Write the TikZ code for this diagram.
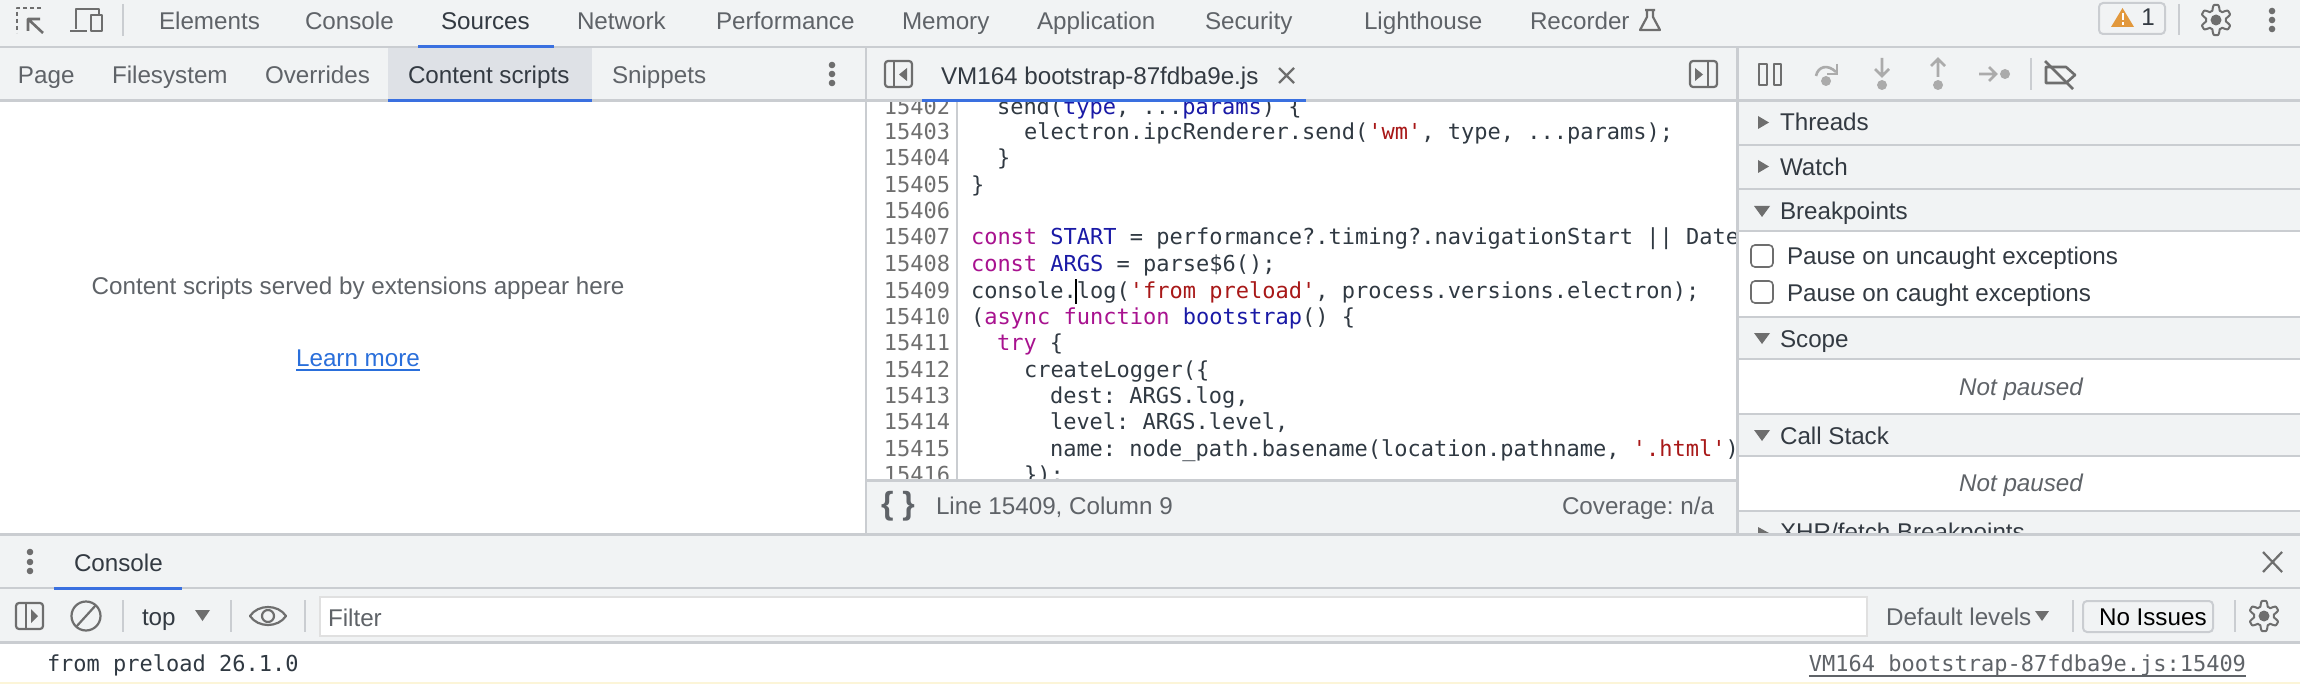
\documentclass[tikz,border=0pt]{standalone}
\usepackage{fontspec}
\setmainfont{Liberation Sans}
\newfontfamily\codefont{DejaVu Sans Mono}
\definecolor{barbg}{HTML}{F1F3F4}
\definecolor{bordc}{HTML}{CACDD1}
\definecolor{activebg}{HTML}{DEE1E6}
\definecolor{tabtxt}{HTML}{5F6368}
\definecolor{darktxt}{HTML}{333A42}
\definecolor{accent}{HTML}{3A70E0}
\definecolor{iconc}{HTML}{6E6E6E}
\definecolor{offc}{HTML}{ABABAB}
\definecolor{kwc}{HTML}{A8128F}
\definecolor{varc}{HTML}{1A1AA6}
\definecolor{strc}{HTML}{A81818}
\definecolor{codec}{HTML}{303942}
\definecolor{numc}{HTML}{6F6F6F}
\definecolor{yellowc}{HTML}{FCF5D8}
\definecolor{warnc}{HTML}{E2983C}
\definecolor{linkc}{HTML}{2A6FDB}
\definecolor{boxc}{HTML}{E0E0E0}
\newcommand\kw[1]{\textcolor{kwc}{#1}}
\newcommand\vr[1]{\textcolor{varc}{#1}}
\newcommand\st[1]{\textcolor{strc}{#1}}
\newcommand\gearicon[2]{\begin{scope}[shift={(#1,#2)}]
 \draw[iconc,line width=1pt,line join=round] plot[domain=0:360,samples=145] ({(12.5+2.6*max(-1,min(1,1.6*cos(6*\x+180))))*cos(\x)},{(12.5+2.6*max(-1,min(1,1.6*cos(6*\x+180))))*sin(\x)}) -- cycle;
 \fill[iconc] (0,0) circle[radius=5.5];
\end{scope}}
\tikzset{
 x=.5pt,y=-.5pt,
 uibase/.style={inner sep=0pt,outer sep=0pt,yshift=-1.7pt,font=\fontsize{12.1}{14}\selectfont},
 uitab/.style={uibase,anchor=mid west,text=tabtxt},
 uion/.style={uibase,anchor=mid west,text=darktxt},
 uihead/.style={uibase,anchor=mid west,text=darktxt},
 uinote/.style={uibase,anchor=mid,text=tabtxt},
 codeline/.style={inner sep=0pt,outer sep=0pt,yshift=-.4pt,anchor=mid west,text=codec,font=\fontsize{11}{13}\codefont},
 numline/.style={inner sep=0pt,outer sep=0pt,yshift=-.4pt,anchor=mid east,text=numc,font=\fontsize{11}{13}\codefont},
 rulerow/.style={bordc,line width=1.25pt},
 sepline/.style={draw=bordc,line width=1pt},
 iconline/.style={iconc,line width=1.1pt,line join=round},
 offline/.style={offc,line width=1.1pt},
}
\begin{document}
\frenchspacing
\begin{tikzpicture}
\useasboundingbox (0,0) rectangle (2300,684);
\fill[white] (0,0) rectangle (2300,684);
% backgrounds
\fill[barbg] (0,0) rectangle (2300,101);
\fill[activebg] (388,48) rectangle (592,100);
\fill[barbg] (1738,102) rectangle (2300,231);
\fill[barbg] (1738,317) rectangle (2300,359);
\fill[barbg] (1738,414) rectangle (2300,456);
\fill[barbg] (1738,511) rectangle (2300,535);
\fill[barbg] (867,480) rectangle (1737,535);
\fill[barbg] (0,535) rectangle (2300,642);
% code
\begin{scope}
\clip (867,102) rectangle (1736,480);
\foreach \n/\yy in {15402/108,15403/133,15404/159,15405/186,15406/212,15407/238,15408/265,15409/292,15410/318,15411/344,15412/371,15413/397,15414/423,15415/450,15416/476}
  \node[numline] (num\n) at (950,\yy) {\n};
\node[codeline] (c02) at (997,108) {send(\vr{type}, ...\vr{params}) \{};
\node[codeline] (c03) at (1024,133) {electron.ipcRenderer.send(\st{'wm'}, type, ...params);};
\node[codeline] (c04) at (997,159) {\}};
\node[codeline] (c05) at (971,186) {\}};
\node[codeline] (c07) at (971,238) {\kw{const} \vr{START} = performance?.timing?.navigationStart || Date};
\node[codeline] (c08) at (971,265) {\kw{const} \vr{ARGS} = parse\$6();};
\node[codeline] (c09) at (971,292) {console.log(\st{'from preload'}, process.versions.electron);};
\node[codeline] (c10) at (971,318) {(\kw{async} \kw{function} \vr{bootstrap}() \{};
\node[codeline] (c11) at (997,344) {\kw{try} \{};
\node[codeline] (c12) at (1024,371) {createLogger(\{};
\node[codeline] (c13) at (1050,397) {dest: ARGS.log,};
\node[codeline] (c14) at (1050,423) {level: ARGS.level,};
\node[codeline] (c15) at (1050,450) {name: node\_path.basename(location.pathname, \st{'.html'})};
\node[codeline] (c16) at (1024,476) {\});};
\end{scope}
\draw[black,line width=.7pt] (1076,279) -- (1076,304);
% right-hand clipped section heading
\begin{scope}
\clip (1738,511) rectangle (2300,534);
\node[uihead] (xhr) at (1780,532) {XHR/fetch Breakpoints};
\fill[iconc] (1758,527) -- (1769,533) -- (1758,539) -- cycle;
\end{scope}
% rules
\draw[rulerow] (0,47) -- (2300,47);
\draw[rulerow] (0,100.5) -- (2300,100.5);
\draw[bordc,line width=1pt] (957,102) -- (957,480);
\draw[rulerow] (866,48) -- (866,534);
\draw[rulerow] (1737.5,48) -- (1737.5,534);
\draw[rulerow] (866,480.5) -- (1737,480.5);
\foreach \yy in {145,189,231,317,359,414,456,511}
  \draw[rulerow] (1738,\yy) -- (2300,\yy);
\draw[rulerow] (0,534.5) -- (2300,534.5);
\draw[rulerow] (0,588) -- (2300,588);
\draw[rulerow] (0,642.5) -- (2300,642.5);
\fill[accent] (418,45) rectangle (554,48.5);
\fill[accent] (388,99) rectangle (592,102);
\fill[accent] (922,99) rectangle (1306,102);
\fill[accent] (54,586.5) rectangle (182,590);
\fill[yellowc] (0,682) rectangle (2300,684);
% top tabs
\node[uitab] (tElements) at (159,21) {Elements};
\node[uitab] (tConsole) at (305,21) {Console};
\node[uion] (tSources) at (441,21) {Sources};
\node[uitab] (tNetwork) at (577,21) {Network};
\node[uitab] (tPerformance) at (716,21) {Performance};
\node[uitab] (tMemory) at (902,21) {Memory};
\node[uitab] (tApplication) at (1037,21) {Application};
\node[uitab] (tSecurity) at (1205,21) {Security};
\node[uitab] (tLighthouse) at (1364,21) {Lighthouse};
\node[uitab] (tRecorder) at (1530,21) {Recorder};
% top icons
\draw[iconline,dash pattern=on 2pt off 1.5pt] (41,8) -- (17,8) -- (17,33);
\draw[iconline,line width=1.3pt] (43,33) -- (28,19) (28,31) -- (28,19) -- (40,19);
\draw[iconline,line width=1.3pt] (76,29) -- (76,9) -- (99,9) -- (99,14);
\draw[iconline,line width=1.3pt] (70,31) -- (87,31);
\draw[iconline,line width=1.3pt] (91,15) rectangle (102,31);
\draw[sepline] (123,4) -- (123,36);
\draw[iconline] (1645,10) -- (1655,10) (1647,10) -- (1647,17) -- (1640,30) -- (1660,30) -- (1653,17) -- (1653,10);
% warning badge
\draw[bordc,line width=1pt,rounded corners=2pt] (2099,3) rectangle (2165,34);
\fill[warnc] (2122.5,8) -- (2134,27) -- (2111,27) -- cycle;
\draw[white,line width=1pt] (2122.5,13) -- (2122.5,20) (2122.5,22) -- (2122.5,25);
\node[uibase,text=darktxt,anchor=mid] (warncount) at (2148,17) {1};
\draw[sepline] (2179,4) -- (2179,35);
\gearicon{2216}{20}
\foreach \yy in {11,20,29} \fill[iconc] (2272,\yy) circle[radius=3.3];
% second-row tabs
\node[uitab] (nPage) at (18,75) {Page};
\node[uitab] (nFilesystem) at (112,75) {Filesystem};
\node[uitab] (nOverrides) at (265,75) {Overrides};
\node[uion] (nContent) at (408,75) {Content scripts};
\node[uitab] (nSnippets) at (612,75) {Snippets};
\foreach \yy in {65,74,83} \fill[iconc] (832,\yy) circle[radius=3.3];
% left panel
\node[uinote] (msg) at (358,286) {Content scripts served by extensions appear here};
\node[uibase,anchor=mid,text=linkc] (learn) at (358,358) {Learn more};
\draw[linkc,line width=.7pt] ([yshift=-1.6pt]learn.base west) -- ([yshift=-1.6pt]learn.base east);
% source tab bar
\draw[iconline,rounded corners=1.5pt] (885,61) rectangle (912,87);
\draw[iconline] (894,61) -- (894,87);
\fill[iconc] (907,68) -- (907,81) -- (899,74.5) -- cycle;
\node[uion] (srcTab) at (941,76) {VM164 bootstrap-87fdba9e.js};
\draw[iconline] (1279,68) -- (1294,83) (1294,68) -- (1279,83);
\draw[iconline,rounded corners=1.5pt] (1690,61) rectangle (1717,87);
\draw[iconline] (1708,61) -- (1708,87);
\fill[iconc] (1695,68) -- (1695,81) -- (1703,74.5) -- cycle;
% debugger toolbar
\draw[iconline,line width=1.3pt] (1759,64) rectangle (1767,85) (1774,64) rectangle (1781,85);
\draw[offline,line width=1.3pt] (1816,76) .. controls (1818,66) and (1828,64) .. (1836,72);
\draw[offline,line width=1.3pt] (1837,64) -- (1837,74) -- (1827,74);
\fill[offc] (1826,81) circle[radius=5];
\draw[offline,line width=1.3pt] (1882,58) -- (1882,76) (1875,69) -- (1882,76) -- (1889,69);
\fill[offc] (1882,85) circle[radius=5];
\draw[offline,line width=1.3pt] (1938,77) -- (1938,59) (1931,66) -- (1938,59) -- (1945,66);
\fill[offc] (1938,85) circle[radius=5];
\draw[offline,line width=1.3pt] (1979,74) -- (1996,74) (1989,67) -- (1996,74) -- (1989,81);
\fill[offc] (2005,74) circle[radius=5];
\draw[sepline] (2031,58) -- (2031,90);
\draw[iconline,line width=1.3pt] (2046,67) -- (2066,67) -- (2075,75) -- (2066,83) -- (2046,83) -- cycle;
\draw[iconline,line width=1.3pt] (2045,61) -- (2073,89);
% sidebar sections
\fill[iconc] (1758,116) -- (1769,122.5) -- (1758,129) -- cycle;
\node[uihead] (hThreads) at (1780,122) {Threads};
\fill[iconc] (1758,160) -- (1769,166.5) -- (1758,173) -- cycle;
\node[uihead] (hWatch) at (1780,167) {Watch};
\fill[iconc] (1754,206) -- (1770,206) -- (1762,217) -- cycle;
\node[uihead] (hBreak) at (1780,211) {Breakpoints};
\draw[iconc,line width=.8pt,rounded corners=2pt] (1751,245) rectangle (1773,267);
\node[uihead] (pUncaught) at (1787,256) {Pause on uncaught exceptions};
\draw[iconc,line width=.8pt,rounded corners=2pt] (1751,281) rectangle (1773,303);
\node[uihead] (pCaught) at (1787,293) {Pause on caught exceptions};
\fill[iconc] (1754,333) -- (1770,333) -- (1762,344) -- cycle;
\node[uihead] (hScope) at (1780,339) {Scope};
\node[uinote,font=\fontsize{12.1}{14}\selectfont\itshape] (np1) at (2021,387) {Not paused};
\fill[iconc] (1754,430) -- (1770,430) -- (1762,441) -- cycle;
\node[uihead] (hStack) at (1780,436) {Call Stack};
\node[uinote,font=\fontsize{12.1}{14}\selectfont\itshape] (np2) at (2021,483) {Not paused};
% status bar
\node[uibase,anchor=mid,text=tabtxt,yshift=.5pt,font=\fontsize{16}{20}\bfseries] (braces) at (898,507) {\{ \}};
\node[uitab] (stLine) at (936,506) {Line 15409, Column 9};
\node[uitab,anchor=mid east] (stCov) at (1714,506) {Coverage: n/a};
% drawer
\foreach \yy in {552,562,571} \fill[iconc] (30,\yy) circle[radius=3.3];
\node[uion] (dConsole) at (74,563) {Console};
\draw[iconline] (2263,552) -- (2282,572) (2282,552) -- (2263,572);
% console toolbar
\draw[iconline,rounded corners=1.5pt] (16,603) rectangle (43,629);
\draw[iconline] (26,603) -- (26,629);
\fill[iconc] (31,609) -- (31,623) -- (38,616) -- cycle;
\draw[iconline] (86,616) circle[radius=14.5];
\draw[iconline] (76,627) -- (96,605);
\draw[sepline] (123,600) -- (123,632);
\node[uion] (ctxTop) at (142,617) {top};
\fill[iconc] (195,610) -- (210,610) -- (202.5,621) -- cycle;
\draw[sepline] (231,600) -- (231,632);
\draw[iconline] (250,616) .. controls (258,604) and (278,604) .. (286,616) .. controls (278,628) and (258,628) .. (250,616) -- cycle;
\draw[iconline] (268,616) circle[radius=6];
\draw[sepline] (305,600) -- (305,632);
\draw[draw=boxc,fill=white,line width=1.2pt] (320,597) rectangle (1867,636);
\node[uitab] (filter) at (328,618) {Filter};
\node[uitab] (levels) at (1886,617) {Default levels};
\fill[iconc] (2035,611) -- (2049,611) -- (2042,621) -- cycle;
\draw[sepline] (2073,600) -- (2073,632);
\draw[bordc,line width=1pt,rounded corners=2pt] (2083,601) rectangle (2213,632);
\node[uibase,anchor=mid west,text=black] (issues) at (2099,617) {No Issues};
\draw[sepline] (2235,600) -- (2235,632);
\gearicon{2264}{616}
% log
\node[codeline] (logMsg) at (47,665) {from preload 26.1.0};
\node[codeline,anchor=mid east,text=tabtxt] (logLink) at (2246,665) {VM164 bootstrap-87fdba9e.js:15409};
\draw[tabtxt,line width=.6pt] ([yshift=-2.5pt]logLink.base west) -- ([yshift=-2.5pt]logLink.base east);
\end{tikzpicture}
\end{document}
